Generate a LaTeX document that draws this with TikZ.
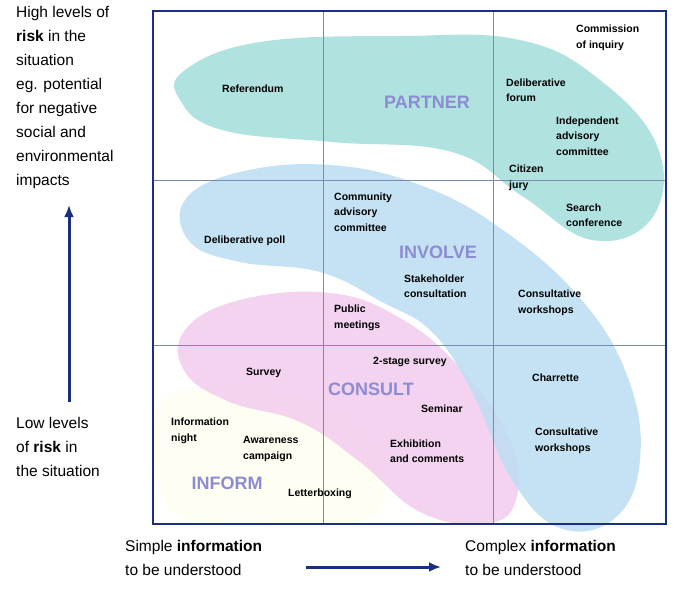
\documentclass[tikz,border=0pt]{standalone}
\usepackage{fontspec}
\usetikzlibrary{arrows.meta}
\setmainfont{Liberation Sans}
\begin{document}
\begin{tikzpicture}[x=1pt,y=-1pt,
  lab/.style={font=\bfseries\fontsize{10.5}{15.5}\selectfont,align=left,anchor=west,inner sep=0pt},
  cat/.style={font=\bfseries\fontsize{18}{19}\selectfont,text=catc,inner sep=0pt},
  side/.style={font=\fontsize{15.5}{24}\selectfont,align=left,anchor=north west,inner sep=0pt}]
\definecolor{catc}{HTML}{8C8CD2}
\definecolor{framec}{HTML}{1A2F80}
\definecolor{gridc}{HTML}{7A8AB0}
\definecolor{teal}{HTML}{A3DEDA}
\definecolor{lblue}{HTML}{BCDDF3}
\definecolor{pink}{HTML}{F2CFEE}
\definecolor{cream}{HTML}{FEFEF2}
\useasboundingbox (0,0) rectangle (700,594);
\fill[white] (0,0) rectangle (700,594);
% blobs
\fill[cream] plot[smooth cycle,tension=0.7] coordinates{(160,405)(220,388)(300,400)(360,430)(385,480)(370,518)(300,524)(200,522)(160,490)};
\fill[pink,opacity=0.9] plot[smooth cycle,tension=0.7] coordinates{(185,330)(240,300)(330,293)(400,318)(460,368)(510,440)(516,500)(485,524)(420,512)(360,462)(300,422)(230,402)(185,372)};
\fill[lblue,opacity=0.85] plot[smooth cycle,tension=0.7] coordinates{(185,200)(240,172)(330,165)(420,185)(500,228)(580,298)(628,378)(640,460)(615,518)(560,528)(512,480)(472,392)(432,332)(382,302)(320,272)(240,262)(190,242)};
\fill[teal,opacity=0.85] plot[smooth cycle,tension=0.7] coordinates{(185,70)(260,42)(400,36)(520,40)(600,80)(658,148)(652,218)(592,240)(522,196)(452,152)(332,142)(222,130)(180,100)};
% frame and grid
\draw[gridc,line width=0.4pt] (323,12) -- (323,523) (493,12) -- (493,523) (154,180) -- (666,180) (154,345) -- (666,345);
\node[draw=framec,line width=2.2pt,minimum width=513pt,minimum height=513pt,inner sep=0pt] (frame) at (409.5,267.5) {};
% categories
\node[cat] (partner) at (427,102) {PARTNER};
\node[cat] (involve) at (438,252) {INVOLVE};
\node[cat] (consult) at (371,389) {CONSULT};
\node[cat] (inform) at (227,483) {INFORM};
% labels
\node[lab] (n1) at (576,38) {Commission\\of inquiry};
\node[lab] (n2) at (222,89) {Referendum};
\node[lab] (n3) at (506,90) {Deliberative\\forum};
\node[lab] (n4) at (556,136) {Independent\\advisory\\committee};
\node[lab] (n5) at (509,178) {Citizen\\jury};
\node[lab] (n6) at (566,215) {Search\\conference};
\node[lab] (n7) at (334,212) {Community\\advisory\\committee};
\node[lab] (n8) at (204,241) {Deliberative poll};
\node[lab] (n9) at (404,286) {Stakeholder\\consultation};
\node[lab] (n10) at (518,303) {Consultative\\workshops};
\node[lab] (n11) at (334,318) {Public\\meetings};
\node[lab] (n12) at (373,362) {2-stage survey};
\node[lab] (n13) at (246,373) {Survey};
\node[lab] (n14) at (532,378) {Charrette};
\node[lab] (n15) at (421,409) {Seminar};
\node[lab] (n16) at (171,431) {Information\\night};
\node[lab] (n17) at (243,449) {Awareness\\campaign};
\node[lab] (n18) at (390,451) {Exhibition\\and comments};
\node[lab] (n19) at (535,441) {Consultative\\workshops};
\node[lab] (n20) at (288,494) {Letterboxing};
% side texts
\node[side] (hi) at (16,6) {High levels of\\\textbf{risk} in the\\situation\\eg. potential\\for negative\\social and\\environmental\\impacts};
\node[side] (lo) at (16,417) {Low levels\\of \textbf{risk} in\\the situation};
\node[side] (si) at (125,540) {Simple \textbf{information}\\to be understood};
\node[side] (co) at (465,540) {Complex \textbf{information}\\to be understood};
\coordinate (ab) at (69,402);
\coordinate (at) at (69,205);
\draw[framec,line width=3pt,-{Latex[length=12pt,width=10pt]}] (ab) -- (at);
\coordinate (al) at (306,567);
\coordinate (ar) at (441,567);
\draw[framec,line width=3pt,-{Latex[length=12pt,width=10pt]}] (al) -- (ar);
\end{tikzpicture}
\end{document}
